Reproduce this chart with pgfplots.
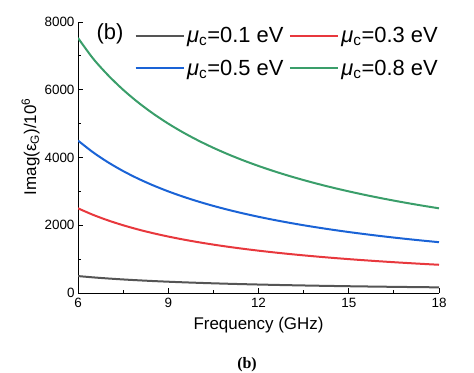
\documentclass[border=0pt]{standalone}
\usepackage{fontspec}
\setmainfont{Liberation Sans}
\newfontfamily\capfont{Liberation Serif}
\usepackage{pgfplots}
\pgfplotsset{compat=1.18}
\definecolor{cgray}{RGB}{85,85,85}
\definecolor{cred}{RGB}{232,56,61}
\definecolor{cblue}{RGB}{26,99,214}
\definecolor{cgreen}{RGB}{58,158,106}
\begin{document}
\begin{tikzpicture}
\begin{axis}[
  name=ax,
  scale only axis,
  width=361bp, height=271bp,
  xmin=6, xmax=18, ymin=0, ymax=8000,
  axis x line=bottom, axis y line=left,
  axis line style={-, line width=0.8bp},
  xtick={6,9,12,15,18},
  ytick={0,2000,4000,6000,8000},
  minor tick num=1,
  tick align=inside,
  major tick length=5bp, minor tick length=3bp,
  tick style={line width=0.8bp, black},
  scaled y ticks=false,
  /pgf/number format/1000 sep={},
  /pgf/number format/assume math mode=true,
  ticklabel style={font=\fontsize{13.5}{16}\selectfont},
  xticklabel style={yshift=-2bp},
  xlabel={Frequency (GHz)},
  ylabel={Imag(ε\textsubscript{G})/10\textsuperscript{6}},
  label style={font=\fontsize{17}{20}\selectfont},
  xlabel style={yshift=-2bp},
  ylabel style={at={(ticklabel cs:0.54)}, yshift=-2bp, font=\fontsize{17}{20}\selectfont},
  legend columns=2,
  legend cell align=left,
  legend style={draw=none, fill=none, at={(0.148,0.998)}, anchor=north west,
    font=\fontsize{22}{26}\selectfont,
    nodes={inner sep=2.5bp},
    /tikz/every even column/.append style={column sep=3bp},
    row sep=11bp},
  legend image code/.code={\draw[#1, line width=2bp] (0bp,0bp) -- (48bp,0bp);},
]
\addplot[cgray, line width=2bp, smooth] coordinates {
(6,500) (6.5,461.5) (7,428.6) (7.5,400) (8,375) (8.5,352.9) (9,333.3) (9.5,315.8) (10,300) (10.5,285.7) (11,272.7) (11.5,260.9) (12,250) (12.5,240) (13,230.8) (13.5,222.2) (14,214.3) (14.5,206.9) (15,200) (15.5,193.5) (16,187.5) (16.5,181.8) (17,176.5) (17.5,171.4) (18,166.7)};
\addlegendentry{{\itshape μ}\textsubscript{c}=0.1 eV}
\addplot[cred, line width=2bp, smooth] coordinates {
(6,2500) (6.5,2307.7) (7,2142.9) (7.5,2000) (8,1875) (8.5,1764.7) (9,1666.7) (9.5,1578.9) (10,1500) (10.5,1428.6) (11,1363.6) (11.5,1304.3) (12,1250) (12.5,1200) (13,1153.8) (13.5,1111.1) (14,1071.4) (14.5,1034.5) (15,1000) (15.5,967.7) (16,937.5) (16.5,909.1) (17,882.4) (17.5,857.1) (18,833.3)};
\addlegendentry{{\itshape μ}\textsubscript{c}=0.3 eV}
\addplot[cblue, line width=2bp, smooth] coordinates {
(6,4500) (6.5,4153.8) (7,3857.1) (7.5,3600) (8,3375) (8.5,3176.5) (9,3000) (9.5,2842.1) (10,2700) (10.5,2571.4) (11,2454.5) (11.5,2347.8) (12,2250) (12.5,2160) (13,2076.9) (13.5,2000) (14,1928.6) (14.5,1862.1) (15,1800) (15.5,1741.9) (16,1687.5) (16.5,1636.4) (17,1588.2) (17.5,1542.9) (18,1500)};
\addlegendentry{{\itshape μ}\textsubscript{c}=0.5 eV}
\addplot[cgreen, line width=2bp, smooth] coordinates {
(6,7530) (6.5,6923.1) (7,6428.6) (7.5,6000) (8,5625) (8.5,5294.1) (9,5000) (9.5,4736.8) (10,4500) (10.5,4285.7) (11,4090.9) (11.5,3913.0) (12,3750) (12.5,3600) (13,3461.5) (13.5,3333.3) (14,3214.3) (14.5,3103.4) (15,3000) (15.5,2903.2) (16,2812.5) (16.5,2727.3) (17,2647.1) (17.5,2571.4) (18,2500)};
\addlegendentry{{\itshape μ}\textsubscript{c}=0.8 eV}
\node[font=\fontsize{22}{26}\selectfont, anchor=center] at (rel axis cs:0.0886,0.957) {(b)};
\end{axis}
\node[font=\capfont\bfseries\fontsize{16}{18}\selectfont] at ([xshift=169bp,yshift=-72bp]ax.south west) {(b)};
\pgfresetboundingbox
\path ([xshift=-78bp,yshift=-80bp]ax.south west) rectangle ++(474bp,373bp);
\end{tikzpicture}
\end{document}
